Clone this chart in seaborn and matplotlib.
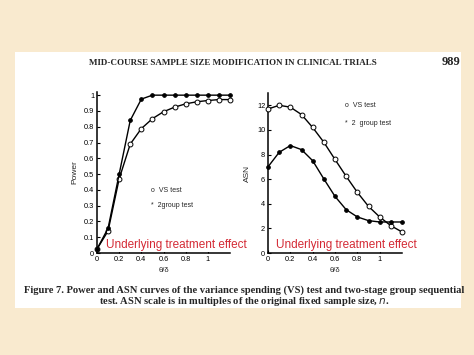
import numpy as np
import pandas as pd
import matplotlib
matplotlib.use('Agg')
import matplotlib.pyplot as plt
import seaborn as sns

sns.set_theme(style='ticks')
plt.rcParams['font.family'] = ['Liberation Sans', 'DejaVu Sans']

# theta / delta grid
theta = [0, 0.1, 0.2, 0.3, 0.4, 0.5, 0.6, 0.7, 0.8, 0.9, 1.0, 1.1, 1.2]

# Power curves
power_vs = [0.025, 0.14, 0.47, 0.69, 0.788, 0.851, 0.895, 0.924, 0.945, 0.958, 0.966, 0.972, 0.972]
power_2g = [0.025, 0.157, 0.50, 0.84, 0.975, 1.0, 1.0, 1.0, 1.0, 1.0, 1.0, 1.0, 1.0]

# ASN curves
asn_vs = [11.7, 12.0, 11.85, 11.25, 10.2, 9.0, 7.6, 6.23, 4.93, 3.79, 2.93, 2.22, 1.71]
asn_2g = [7.0, 8.18, 8.73, 8.4, 7.5, 6.02, 4.6, 3.52, 2.93, 2.63, 2.52, 2.52, 2.52]

power_ticks = [0, 0.1, 0.2, 0.3, 0.4, 0.5, 0.6, 0.7, 0.8, 0.9, 1]
power_ticklabels = ['0', '0.1', '0.2', '0.3', '0.4', '0.5', '0.6', '0.7', '0.8', '0.9', '1']
asn_ticks = [0, 2, 4, 6, 8, 10, 12]
x_ticks = [0, 0.2, 0.4, 0.6, 0.8, 1]
x_ticklabels = ['0', '0.2', '0.4', '0.6', '0.8', '1']

tan = '#f9eacf'
red = '#d42a35'

fig = plt.figure(figsize=(4.74, 3.55), dpi=100, facecolor=tan)

# white page
page = fig.add_axes([15 / 474, 1 - 308 / 355, 446 / 474, 256 / 355])
page.set_facecolor('white')
page.set_xticks([])
page.set_yticks([])
for s in page.spines.values():
    s.set_visible(False)

serif = ['Liberation Serif', 'DejaVu Serif']
fig.text(233 / 474, 1 - 63 / 355, 'MID-COURSE SAMPLE SIZE MODIFICATION IN CLINICAL TRIALS',
         family=serif, fontsize=6.5, fontweight='bold', ha='center', va='center')
fig.text(460 / 474, 1 - 62 / 355, '989', family=serif, fontsize=9, fontweight='bold',
         ha='right', va='center')
fig.text(244 / 474, 1 - 290 / 355,
         'Figure 7. Power and ASN curves of the variance spending (VS) test and two-stage group sequential',
         family=serif, fontsize=7.6, fontweight='bold', ha='center', va='center')
fig.text(244 / 474, 1 - 301 / 355,
         'test. ASN scale is in multiples of the original fixed sample size, $\\it{n}$.',
         family=serif, fontsize=7.6, fontweight='bold', ha='center', va='center')


def style_axes(ax):
    ax.set_facecolor('none')
    sns.despine(ax=ax)
    for s in ['left', 'bottom']:
        ax.spines[s].set_linewidth(1.1)
        ax.spines[s].set_color('black')
    ax.tick_params(direction='in', length=2, width=0.8, labelsize=5.3, pad=2, colors='black')
    ax.set_xlim(0, 1.2)
    ax.set_xticks(x_ticks)
    ax.set_xticklabels(x_ticklabels)
    ax.set_xlabel('θ/δ', fontsize=5.5, labelpad=3)


def draw(ax, y_open, y_filled):
    sns.lineplot(x=theta, y=y_open, ax=ax, color='black', lw=1.0, marker='o',
                 markersize=3.5, markerfacecolor='white', markeredgecolor='black',
                 markeredgewidth=0.7, zorder=3, clip_on=False)
    sns.lineplot(x=theta, y=y_filled, ax=ax, color='black', lw=1.0, marker='o',
                 markersize=2.6, markerfacecolor='black', markeredgecolor='black',
                 zorder=3, clip_on=False)


# left: power
ax1 = fig.add_axes([97 / 474, 1 - 253 / 355, 133 / 474, 161 / 355])
draw(ax1, power_vs, power_2g)
style_axes(ax1)
ax1.set_ylim(0, 1.02)
ax1.set_yticks(power_ticks)
ax1.set_yticklabels(power_ticklabels)
ax1.set_ylabel('Power', fontsize=6, labelpad=4)
ax1.text(0.49, 0.393, 'o  VS test', fontsize=5, va='center')
ax1.text(0.49, 0.30, '*  2group test', fontsize=5, va='center')
ax1.text(0.085, 0.05, 'Underlying treatment effect', color=red, fontsize=8.5, va='center',
         zorder=5, bbox=dict(facecolor='white', edgecolor='none', pad=0.5))

# right: ASN
ax2 = fig.add_axes([268 / 474, 1 - 253 / 355, 134 / 474, 160 / 355])
draw(ax2, asn_vs, asn_2g)
style_axes(ax2)
ax2.set_ylim(0, 13)
ax2.set_yticks(asn_ticks)
ax2.set_ylabel('ASN', fontsize=6, labelpad=4)
ax2.text(0.69, 12.0, 'o  VS test', fontsize=5, va='center')
ax2.text(0.69, 10.5, '*  2  group test', fontsize=5, va='center')
ax2.text(0.07, 0.65, 'Underlying treatment effect', color=red, fontsize=8.5, va='center',
         zorder=5, bbox=dict(facecolor='white', edgecolor='none', pad=0.5))

fig.savefig('out.png', dpi=100, facecolor=tan)
